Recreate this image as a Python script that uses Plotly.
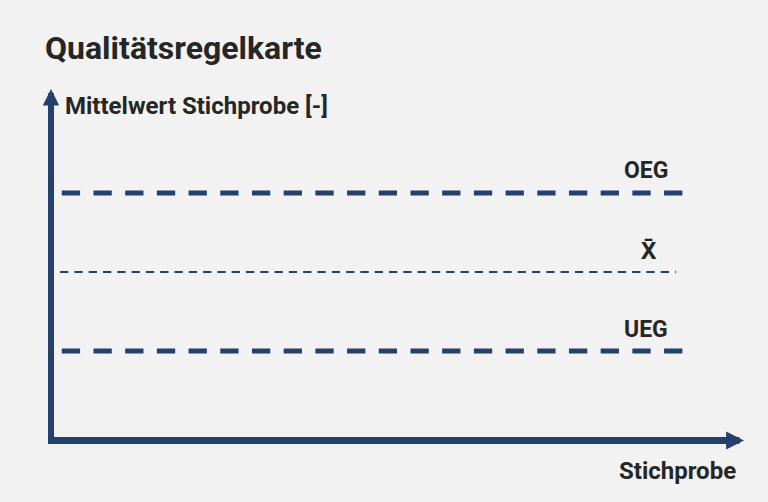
import plotly.graph_objects as go

# Regelgrenzen (Mittelwert der Stichprobe)
grenzen = ["OEG", "X̄", "UEG"]
grenz_werte = [10.4, 10.0, 9.6]
# Bereich der Stichproben, über den die Linien gezogen sind
linie_von = [0.23, 0.18, 0.23]
linie_bis = [18.61, 18.4, 18.61]
label_x = [17.5, 17.6, 17.5]

titel = "Qualitätsregelkarte"
y_titel = "Mittelwert Stichprobe [-]"
x_titel = "Stichprobe"

NAVY = "#23416a"
TEXT = "#262626"
BG = "#f2f2f2"
FONT = "Roboto"

line_styles = {
    "OEG": dict(width=5, dash="18.3px,13.4px"),
    "X̄": dict(width=2, dash="8.3px,6px"),
    "UEG": dict(width=5, dash="18.3px,13.4px"),
}
label_fonts = {"OEG": FONT, "X̄": "Noto Sans", "UEG": FONT}

fig = go.Figure()
for name, value, x0, x1 in zip(grenzen, grenz_werte, linie_von, linie_bis):
    fig.add_trace(
        go.Scatter(
            x=[x0, x1],
            y=[value, value],
            mode="lines",
            line=dict(color=NAVY, **line_styles[name]),
            hoverinfo="skip",
            showlegend=False,
        )
    )

annotations = []
for name, value, lx in zip(grenzen, grenz_werte, label_x):
    annotations.append(
        dict(
            x=lx, y=value, xref="x", yref="y", text=f"<b>{name}</b>",
            showarrow=False, xanchor="center", yanchor="middle", yshift=22,
            font=dict(family=label_fonts[name], size=23, color=TEXT),
        )
    )

# Pfeilspitzen an den Achsen
annotations.append(
    dict(
        x=1, y=0, xref="paper", yref="paper", text="", showarrow=True,
        ax=-20, ay=0, axref="pixel", ayref="pixel", xshift=14, yshift=-3.5,
        arrowhead=2, arrowwidth=7, arrowsize=0.51, arrowcolor=NAVY,
    )
)
annotations.append(
    dict(
        x=0, y=1, xref="paper", yref="paper", text="", showarrow=True,
        ax=0, ay=20, axref="pixel", ayref="pixel", xshift=-3, yshift=17,
        arrowhead=2, arrowwidth=6, arrowsize=0.55, arrowcolor=NAVY,
    )
)

annotations.append(
    dict(
        x=0, y=1, xref="paper", yref="paper", text=f"<b>{y_titel}</b>",
        showarrow=False, xanchor="left", yanchor="bottom", xshift=9, yshift=-16,
        font=dict(family=FONT, size=24, color=TEXT),
    )
)
annotations.append(
    dict(
        x=1, y=0, xref="paper", yref="paper", text=f"<b>{x_titel}</b>",
        showarrow=False, xanchor="right", yanchor="top", xshift=8, yshift=-18,
        font=dict(family=FONT, size=24, color=TEXT),
    )
)

fig.update_layout(
    width=768,
    height=502,
    autosize=False,
    margin=dict(l=54, r=38, t=106, b=65),
    paper_bgcolor=BG,
    plot_bgcolor=BG,
    title=dict(
        text=f"<b>{titel}</b>", x=45 / 768, xanchor="left", y=0.905, yanchor="middle",
        font=dict(family=FONT, size=32, color=TEXT),
    ),
    annotations=annotations,
)
fig.update_xaxes(
    range=[0, 20], showgrid=False, zeroline=False, showticklabels=False,
    ticks="", showline=True, linewidth=7, linecolor=NAVY,
)
fig.update_yaxes(
    range=[9.165, 10.84], showgrid=False, zeroline=False, showticklabels=False,
    ticks="", showline=True, linewidth=6, linecolor=NAVY,
)

fig.write_html(
    "out.html",
    config={"displayModeBar": False},
    post_script="document.body.style.margin = '0';",
)
